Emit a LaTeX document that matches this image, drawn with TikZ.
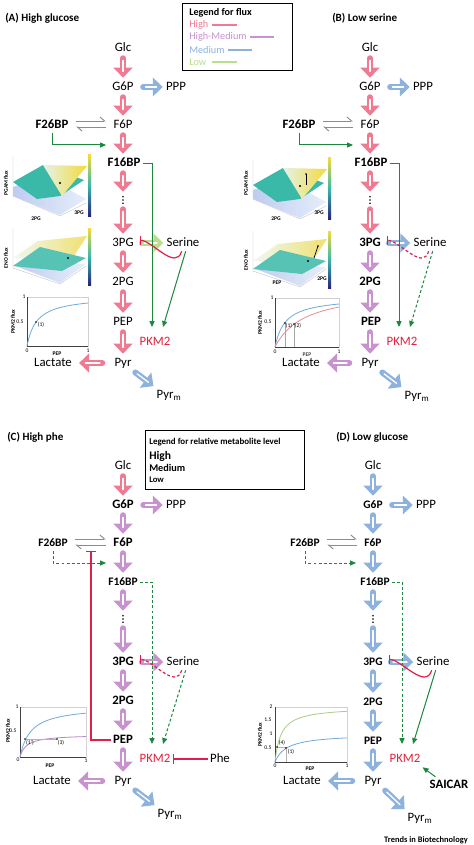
\documentclass[tikz,border=0pt]{standalone}
\usepackage{fontspec}
\setmainfont{Carlito}
\usetikzlibrary{arrows.meta}

\definecolor{hiC}{RGB}{240,122,146}
\definecolor{hmC}{RGB}{200,146,206}
\definecolor{medC}{RGB}{142,178,222}
\definecolor{lowC}{RGB}{186,222,140}
\definecolor{grnC}{RGB}{28,135,62}
\definecolor{inhC}{RGB}{222,32,76}
\definecolor{pkC}{RGB}{226,34,62}
\definecolor{eqC}{RGB}{140,140,140}
\definecolor{tealC}{RGB}{58,184,168}
\definecolor{paleC}{RGB}{228,242,234}
\definecolor{yelC}{RGB}{244,218,60}
\definecolor{lplC}{RGB}{190,204,240}
\definecolor{lplD}{RGB}{230,238,250}
\definecolor{cbBlue}{RGB}{38,36,128}
\definecolor{cvBlue}{RGB}{110,170,220}
\definecolor{cvPink}{RGB}{236,140,150}
\definecolor{cvGreen}{RGB}{170,205,130}
\definecolor{cvPurp}{RGB}{185,135,195}

\tikzset{
 lbl/.style={inner sep=1.5pt, text height=7pt, text depth=2pt, font=\fontsize{9.6}{11}\selectfont},
 lblb/.style={lbl, font=\fontsize{9.6}{11}\selectfont\bfseries},
 lbls/.style={lbl, font=\fontsize{8.6}{10}\selectfont\bfseries},
 pkm/.style={lbl, text=pkC},
 dotn/.style={inner sep=0pt, minimum width=3pt, minimum height=10.5pt},
 ttl/.style={anchor=west, inner sep=0pt, font=\fontsize{8.3}{10}\selectfont\bfseries},
 act/.style={draw=grnC, line width=0.75pt, -{Triangle[length=4.5pt,width=3.8pt]}},
 actd/.style={act, dash pattern=on 2.2pt off 1.6pt},
 inh/.style={draw=inhC, line width=0.9pt, -{Bar[width=7pt]}},
 inhd/.style={inh, dash pattern=on 2.2pt off 1.6pt},
 eqa/.style={draw=eqC, line width=0.7pt, -{Straight Barb[left,length=3.5pt,width=6pt]}},
 tk/.style={inner sep=0.3pt, font=\fontsize{4.2}{5}\selectfont},
 tkb/.style={inner sep=0.3pt, font=\fontsize{4.2}{5}\selectfont\bfseries},
 leg/.style={anchor=west, inner sep=0pt, font=\fontsize{7.7}{9}\selectfont},
 axl/.style={black!75, line width=0.35pt},
 axbox/.style={black!18, line width=0.3pt},
}

\newcommand\fa[3]{%
 \draw[#1, line width=4.5pt, line cap=round, shorten <=1.5pt, shorten >=0.8pt, -{Triangle[width=14pt,length=7.5pt]}] #2 -- #3;
 \draw[white, line width=1pt, line cap=round, shorten <=3.2pt, shorten >=5.5pt] #2 -- #3;}
\newcommand\vdts[1]{\foreach \d in {-2.4,0,2.4}{\fill ([yshift=\d pt]#1.center) circle (0.65pt);}}

\newcommand\pgamsurf{%
 \draw[black!25, line width=0.25pt] (13,157) -- (13,196) -- (60,216) -- (86,203);
 \shade[left color=lplC, right color=lplD] (13,187) -- (44,176) -- (86,199) -- (60,215) -- (13,196) -- cycle;
 \fill[tealC] (13,182) -- (43,165) -- (84,180) -- (60,196) -- (37,199) -- cycle;
 \shade[left color=paleC, right color=yelC] (43,165) -- (87,166) -- (62,196) -- cycle;
 \shade[top color=yelC, bottom color=cbBlue, middle color=tealC] (88,155) rectangle (91,216);
 \fill (60,183) circle (0.8pt);
}
\newcommand\enosurf{%
 \draw[black!25, line width=0.25pt] (13,228) -- (13,268) -- (60,284) -- (86,266);
 \shade[left color=lplC, right color=lplD] (13,265) -- (60,283) -- (86,264) -- (60,262) -- cycle;
 \shade[left color=paleC!60!white, right color=yelC!70!paleC] (13,258) -- (38,241) -- (87,236) -- (70,262) -- cycle;
 \fill[tealC!85!white] (13,266) -- (40,247) -- (86,258) -- (62,271) -- cycle;
 \shade[top color=yelC, bottom color=cbBlue, middle color=tealC] (88,228) rectangle (91,285);
 \fill (68,258) circle (0.8pt);
}

\begin{document}
\begin{tikzpicture}[x=0.75pt,y=-0.75pt]
\useasboundingbox (0,0) rectangle (474,845);
\fill[white] (0,0) rectangle (474,845);

% ---------- titles
\node[ttl] (tA) at (5,18) {(A) High glucose};
\node[ttl] (tB) at (332,18) {(B) Low serine};
\node[ttl] (tC) at (7,437) {(C) High phe};
\node[ttl] (tD) at (336,437) {(D) Low glucose};
\node[anchor=east, inner sep=0pt, font=\fontsize{6.3}{7}\selectfont\bfseries] (trend) at (468,840) {Trends in Biotechnology};

% ---------- legend A
\node[draw, line width=1.1pt, inner sep=0pt, minimum width=82.5pt, minimum height=50.25pt, anchor=north west] (legA) at (182,3) {};
\node[leg, font=\fontsize{7.6}{9}\selectfont\bfseries] (legAt) at (189,13) {Legend for flux};
\node[leg, text=hiC] (legA1) at (189,25) {High};
\node[leg, text=hmC] (legA2) at (189,37) {High-Medium};
\node[leg, text=medC] (legA3) at (189,50) {Medium};
\node[leg, text=lowC] (legA4) at (189,62) {Low};
\draw[hiC, line width=2.2pt] (212,25) -- (237,25);
\draw[hmC, line width=2.2pt] (250,37) -- (274,37);
\draw[medC, line width=2.2pt] (228,50) -- (252,50);
\draw[lowC, line width=2.2pt] (212,62) -- (237,62);

% ---------- legend C
\node[draw, line width=1.1pt, inner sep=0pt, minimum width=119.25pt, minimum height=44.25pt, anchor=north west] (legC) at (145,430) {};
\node[leg, font=\fontsize{6.7}{8}\selectfont\bfseries] (legCt) at (149,442) {Legend for relative metabolite level};
\node[leg, font=\fontsize{8.7}{10}\selectfont\bfseries] (legC1) at (149,456) {High};
\node[leg, font=\fontsize{7.7}{9}\selectfont\bfseries] (legC2) at (149,468) {Medium};
\node[leg, font=\fontsize{6.5}{8}\selectfont\bfseries] (legC3) at (149,480) {Low};

% ---------- 3D plots A
\pgamsurf
\enosurf
\node[tkb, rotate=90] (pgA) at (6,183) {PGAM flux};
\node[tkb] (x2A) at (36,219) {2PG};
\node[tkb] (x3A) at (79,213) {3PG};
\node[tkb, rotate=90] (enA) at (6,258) {ENO flux};
% ---------- 3D plots B
\begin{scope}[shift={(240,3)}]
\pgamsurf
\enosurf
\draw[line width=0.5pt] (66,171) -- (66,182);
\fill (66,171) circle (0.7pt);
\draw[line width=0.5pt] (78,243) -- (74,255);
\fill (78,243) circle (0.7pt);
\node[tkb, rotate=90] (pgB) at (6,180) {PGAM flux};
\node[tkb] (x2B) at (36,216) {2PG};
\node[tkb] (x3B) at (79,210) {3PG};
\node[tkb, rotate=90] (enB) at (6,257) {ENO flux};
\node[tkb] (xpB) at (37,280) {PEP};
\node[tkb] (xqB) at (82,276) {2PG};
\end{scope}

% ---------- PKM2 plot A
\draw[axbox] (27,297) rectangle (88,346);
\draw[axl] (27,297) -- (27,346) -- (88,346);
\draw[cvBlue, line width=0.6pt, domain=0:1, samples=60, smooth, variable=\t] plot ({27+61*\t},{346-49*1.02*\t/(\t+0.163)});
\fill (36,322) circle (0.7pt);
\node[tk] (p1A) at (41,325) {(1)};
\node[tk] (ky1A) at (24,297) {1};
\node[tk] (ky2A) at (20,322) {0.5};
\node[tk] (kx0A) at (27,351) {0};
\node[tk] (kx1A) at (88,351) {1};
\node[tkb] (kxA) at (57,354) {PEP};
\node[tkb, rotate=90] (kyA) at (13,322) {PKM2 flux};

% ---------- PKM2 plot B
\draw[axbox] (275,298) rectangle (339,347);
\draw[axl] (275,298) -- (275,347) -- (339,347);
\draw[cvBlue, line width=0.6pt, domain=0:1, samples=60, smooth, variable=\t] plot ({275+64*\t},{347-49*1.02*\t/(\t+0.163)});
\draw[cvPink, line width=0.6pt, domain=0:1, samples=60, smooth, variable=\t] plot ({275+64*\t},{347-49*1.2*\t/(\t+0.47)});
\draw[black!35, line width=0.3pt] (285,323) -- (285,347) (294,324) -- (294,347);
\fill (285,323) circle (0.7pt);
\fill (294,324) circle (0.7pt);
\node[tk] (p1B) at (289,326) {(1)};
\node[tk] (p2B) at (298,326) {(2)};
\node[tk] (ky1B) at (272,298) {1};
\node[tk] (ky2B) at (268,322) {0.5};
\node[tk] (kx0B) at (275,352) {0};
\node[tk] (kx1B) at (339,352) {1};
\node[tk] (kxB) at (307,355) {PEP};
\node[tkb, rotate=90] (kyB) at (260,323) {PKM2 flux};

% ---------- PKM2 plot C
\draw[axbox] (20,707) rectangle (86,757);
\draw[axl] (20,707) -- (20,757) -- (86,757);
\draw[cvBlue, line width=0.6pt, domain=0:1, samples=60, smooth, variable=\t] plot ({20+66*\t},{757-50*1.02*\t/(\t+0.163)});
\draw[cvPurp, line width=0.6pt, domain=0:1, samples=60, smooth, variable=\t] plot ({20+66*\t},{757-50*0.45*\t/(\t+0.1)});
\draw[black!30, line width=0.3pt] (25,739) -- (57,739);
\fill (25,739) circle (0.7pt);
\fill (57,739) circle (0.7pt);
\node[tk] (p1C) at (30,743) {(1')};
\node[tk] (p3C) at (61,743) {(3)};
\node[tk] (ky1C) at (17,707) {1};
\node[tk] (ky2C) at (13,731) {0.5};
\node[tk] (kx0C) at (18,760) {0};
\node[tk] (kx1C) at (86,761) {1};
\node[tkb] (kxC) at (50,766) {PEP};
\node[tkb, rotate=90] (kyC) at (8,731) {PKM2 flux};

% ---------- PKM2 plot D
\draw[axbox] (275,707) rectangle (347,762);
\draw[axl] (275,707) -- (275,762) -- (347,762);
\draw[cvGreen, line width=0.6pt, domain=0:1, samples=60, smooth, variable=\t] plot ({275+72*\t},{762-27.5*2*\t/(\t+0.085)});
\draw[cvBlue, line width=0.6pt, domain=0:1, samples=60, smooth, variable=\t] plot ({275+72*\t},{762-27.5*1.02*\t/(\t+0.163)});
\draw[black!30, line width=0.3pt] (277,747) -- (286,747) -- (286,762);
\fill (277,747) circle (0.7pt);
\fill (286,748) circle (0.7pt);
\node[tk] (p4D) at (282,743) {(4)};
\node[tk] (p1D) at (291,752) {(1)};
\node[tk] (ky1D) at (271,707) {2};
\node[tk] (ky2D) at (268,720) {1.5};
\node[tk] (ky3D) at (271,734) {1};
\node[tk] (ky4D) at (268,748) {0.5};
\node[tk] (kx0D) at (275,766) {0};
\node[tk] (kx1D) at (347,766) {1};
\node[tkb] (kxD) at (310,769) {PEP};
\node[tkb, rotate=90] (kyD) at (260,735) {PKM2 flux};

% =================== PANEL A
\node[lbl] (glcA) at (123,48) {Glc};
\node[lbl] (g6pA) at (123,87) {G6P};
\node[lbl] (pppA) at (176,87) {PPP};
\node[lbl] (f6pA) at (123,125) {F6P};
\node[lblb] (f26A) at (52,125) {F26BP};
\node[lblb] (f16A) at (124,163) {F16BP};
\node[dotn] (dtA) at (123,200) {};
\node[lbl] (pg3A) at (123,243) {3PG};
\node[lbl] (serA) at (183,243) {Serine};
\node[lbl] (pg2A) at (123,282) {2PG};
\node[lbl] (pepA) at (123,322) {PEP};
\node[pkm] (pkmA) at (155,342) {PKM2};
\node[lbl] (pyrA) at (123,363) {Pyr};
\node[lbl] (lacA) at (53,363) {Lactate};
\node[lbl] (pymA) at (169,395) {Pyr\textsubscript{m}};
\vdts{dtA}
\fa{hiC}{(glcA.south)}{(g6pA.north)}
\fa{medC}{([xshift=4pt]g6pA.east)}{(pppA.west)}
\fa{hiC}{(g6pA.south)}{(f6pA.north)}
\fa{hiC}{(f6pA.south)}{(f16A.north -| f6pA)}
\fa{hiC}{(f16A.south -| dtA)}{(dtA.north)}
\fa{hiC}{(dtA.south)}{(pg3A.north)}
\fa{lowC}{([xshift=3pt]pg3A.east)}{(serA.west)}
\fa{hiC}{(pg3A.south)}{(pg2A.north)}
\fa{hiC}{(pg2A.south)}{(pepA.north)}
\fa{hiC}{(pepA.south)}{(pyrA.north)}
\fa{hiC}{([xshift=-6pt]pyrA.west)}{([xshift=3pt]lacA.east)}
\fa{medC}{(pyrA.south east)}{(pymA.north west)}
\draw[eqa] ([xshift=4pt,yshift=3pt]f26A.east) -- ([xshift=-4pt,yshift=3pt]f6pA.west);
\draw[eqa] ([xshift=-4pt,yshift=-1.5pt]f6pA.west) -- ([xshift=4pt,yshift=-1.5pt]f26A.east);
\coordinate (gA) at (106,145);
\draw[act] (f26A.south) |- (gA);
\draw[act] (f16A.east) -| ([xshift=-2.25pt,yshift=5pt]pkmA.north);
\draw[act] ([xshift=2pt]serA.south) -- ([xshift=6pt,yshift=5pt]pkmA.north);
\draw[inh] ([xshift=-1pt]serA.south) .. controls +(-6,20) and +(12,0) .. ([xshift=3pt,yshift=2pt]pg3A.east);

% =================== PANEL B
\begin{scope}[shift={(247,0)}]
\node[lbl] (glcB) at (123,48) {Glc};
\node[lbl] (g6pB) at (123,87) {G6P};
\node[lbl] (pppB) at (176,87) {PPP};
\node[lbl] (f6pB) at (123,125) {F6P};
\node[lblb] (f26B) at (52,125) {F26BP};
\node[lblb] (f16B) at (124,163) {F16BP};
\node[dotn] (dtB) at (123,200) {};
\node[lblb] (pg3B) at (123,243) {3PG};
\node[lbl] (serB) at (183,243) {Serine};
\node[lblb] (pg2B) at (123,282) {2PG};
\node[lblb] (pepB) at (124,322) {PEP};
\node[pkm] (pkmB) at (155,342) {PKM2};
\node[lbl] (pyrB) at (123,363) {Pyr};
\node[lbl] (lacB) at (54,363) {Lactate};
\node[lbl] (pymB) at (170,396) {Pyr\textsubscript{m}};
\vdts{dtB}
\fa{hiC}{(glcB.south)}{(g6pB.north)}
\fa{medC}{([xshift=4pt]g6pB.east)}{(pppB.west)}
\fa{hiC}{(g6pB.south)}{(f6pB.north)}
\fa{hiC}{(f6pB.south)}{(f16B.north -| f6pB)}
\fa{hiC}{(f16B.south -| dtB)}{(dtB.north)}
\fa{hiC}{(dtB.south)}{(pg3B.north)}
\fa{medC}{([xshift=3pt]pg3B.east)}{(serB.west)}
\fa{hmC}{(pg3B.south)}{(pg2B.north)}
\fa{hmC}{(pg2B.south)}{(pepB.north -| pg2B)}
\fa{hmC}{(pepB.south -| pyrB)}{(pyrB.north)}
\fa{hmC}{([xshift=-6pt]pyrB.west)}{([xshift=3pt]lacB.east)}
\fa{medC}{(pyrB.south east)}{(pymB.north west)}
\draw[eqa] ([xshift=4pt,yshift=3pt]f26B.east) -- ([xshift=-4pt,yshift=3pt]f6pB.west);
\draw[eqa] ([xshift=-4pt,yshift=-1.5pt]f6pB.west) -- ([xshift=4pt,yshift=-1.5pt]f26B.east);
\coordinate (gB) at (106,145);
\draw[act] (f26B.south) |- (gB);
\draw[act] (f16B.east) -| ([xshift=-2.25pt,yshift=5pt]pkmB.north);
\draw[actd] ([xshift=2pt]serB.south) -- ([xshift=6pt,yshift=5pt]pkmB.north);
\draw[inhd] ([xshift=-1pt]serB.south) .. controls +(-6,20) and +(12,0) .. ([xshift=3pt,yshift=2pt]pg3B.east);
\end{scope}

% =================== PANEL C
\begin{scope}[shift={(0,418)}]
\node[lbl] (glcC) at (123,48) {Glc};
\node[lblb] (g6pC) at (123,87) {G6P};
\node[lbl] (pppC) at (176,87) {PPP};
\node[lblb] (f6pC) at (123,125) {F6P};
\node[lbls] (f26C) at (53,125) {F26BP};
\node[lbls] (f16C) at (123,164) {F16BP};
\node[dotn] (dtC) at (123,201) {};
\node[lblb] (pg3C) at (123,244) {3PG};
\node[lbl] (serC) at (183,244) {Serine};
\node[lblb] (pg2C) at (123,283) {2PG};
\node[lblb] (pepC) at (123,322) {PEP};
\node[pkm] (pkmC) at (155,341) {PKM2};
\node[lbl] (pheC) at (220,341) {Phe};
\node[lbl] (pyrC) at (123,363) {Pyr};
\node[lbl] (lacC) at (52,363) {Lactate};
\node[lbl] (pymC) at (170,396) {Pyr\textsubscript{m}};
\vdts{dtC}
\fa{hiC}{(glcC.south)}{(g6pC.north)}
\fa{hmC}{([xshift=4pt]g6pC.east)}{(pppC.west)}
\fa{hmC}{(g6pC.south)}{(f6pC.north)}
\fa{hmC}{(f6pC.south)}{(f16C.north)}
\fa{hmC}{(f16C.south)}{(dtC.north)}
\fa{hmC}{(dtC.south)}{(pg3C.north)}
\fa{hmC}{([xshift=3pt]pg3C.east)}{(serC.west)}
\fa{hmC}{(pg3C.south)}{(pg2C.north)}
\fa{hmC}{(pg2C.south)}{(pepC.north)}
\fa{hmC}{(pepC.south)}{(pyrC.north)}
\fa{hmC}{([xshift=-6pt]pyrC.west)}{([xshift=3pt]lacC.east)}
\fa{medC}{(pyrC.south east)}{(pymC.north west)}
\draw[eqa] ([xshift=4pt,yshift=3pt]f26C.east) -- ([xshift=-4pt,yshift=3pt]f6pC.west);
\draw[eqa] ([xshift=-4pt,yshift=-1.5pt]f6pC.west) -- ([xshift=4pt,yshift=-1.5pt]f26C.east);
\coordinate (gC) at (106,145);
\draw[actd] (f26C.south) |- (gC);
\draw[actd] (f16C.east) -| ([xshift=-2.25pt,yshift=5pt]pkmC.north);
\draw[actd] ([xshift=2pt]serC.south) -- ([xshift=6pt,yshift=5pt]pkmC.north);
\draw[inhd] ([xshift=-1pt]serC.south) .. controls +(-6,20) and +(12,0) .. ([xshift=3pt,yshift=2pt]pg3C.east);
\coordinate (iC) at (91,133);
\draw[inh] (pepC.west) -| (iC);
\draw[inh] (pheC.west) -- (pkmC.east);
\end{scope}

% =================== PANEL D
\begin{scope}[shift={(250,418)}]
\node[lbl] (glcD) at (123,48) {Glc};
\node[lbls] (g6pD) at (123,87) {G6P};
\node[lbl] (pppD) at (176,87) {PPP};
\node[lbls] (f6pD) at (123,125) {F6P};
\node[lbls] (f26D) at (55,125) {F26BP};
\node[lbls] (f16D) at (125,164) {F16BP};
\node[dotn] (dtD) at (123,201) {};
\node[lbls] (pg3D) at (123,244) {3PG};
\node[lbl] (serD) at (183,244) {Serine};
\node[lbls] (pg2D) at (123,284) {2PG};
\node[lbls] (pepD) at (123,323) {PEP};
\node[pkm] (pkmD) at (155,341) {PKM2};
\node[lblb] (saiD) at (199,367) {SAICAR};
\node[lbl] (pyrD) at (123,363) {Pyr};
\node[lbl] (lacD) at (52,363) {Lactate};
\node[lbl] (pymD) at (170,400) {Pyr\textsubscript{m}};
\vdts{dtD}
\fa{medC}{(glcD.south)}{(g6pD.north)}
\fa{medC}{([xshift=4pt]g6pD.east)}{(pppD.west)}
\fa{medC}{(g6pD.south)}{(f6pD.north)}
\fa{medC}{(f6pD.south)}{(f16D.north -| f6pD)}
\fa{medC}{(f16D.south -| dtD)}{(dtD.north)}
\fa{medC}{(dtD.south)}{(pg3D.north)}
\fa{medC}{([xshift=3pt]pg3D.east)}{(serD.west)}
\fa{medC}{(pg3D.south)}{(pg2D.north)}
\fa{medC}{(pg2D.south)}{(pepD.north)}
\fa{medC}{(pepD.south)}{(pyrD.north)}
\fa{medC}{([xshift=-6pt]pyrD.west)}{([xshift=3pt]lacD.east)}
\fa{medC}{(pyrD.south east)}{(pymD.north west)}
\draw[eqa] ([xshift=4pt,yshift=3pt]f26D.east) -- ([xshift=-4pt,yshift=3pt]f6pD.west);
\draw[eqa] ([xshift=-4pt,yshift=-1.5pt]f6pD.west) -- ([xshift=4pt,yshift=-1.5pt]f26D.east);
\coordinate (gD) at (106,145);
\draw[actd] (f26D.south) |- (gD);
\draw[actd] (f16D.east) -| ([xshift=-2.25pt,yshift=5pt]pkmD.north);
\draw[act] ([xshift=2pt]serD.south) -- ([xshift=6pt,yshift=5pt]pkmD.north);
\draw[inh] ([xshift=-1pt]serD.south) .. controls +(-6,20) and +(12,0) .. ([xshift=3pt,yshift=2pt]pg3D.east);
\draw[act] ([xshift=6pt]saiD.north west) -- (pkmD.south east);
\end{scope}
\end{tikzpicture}
\end{document}
